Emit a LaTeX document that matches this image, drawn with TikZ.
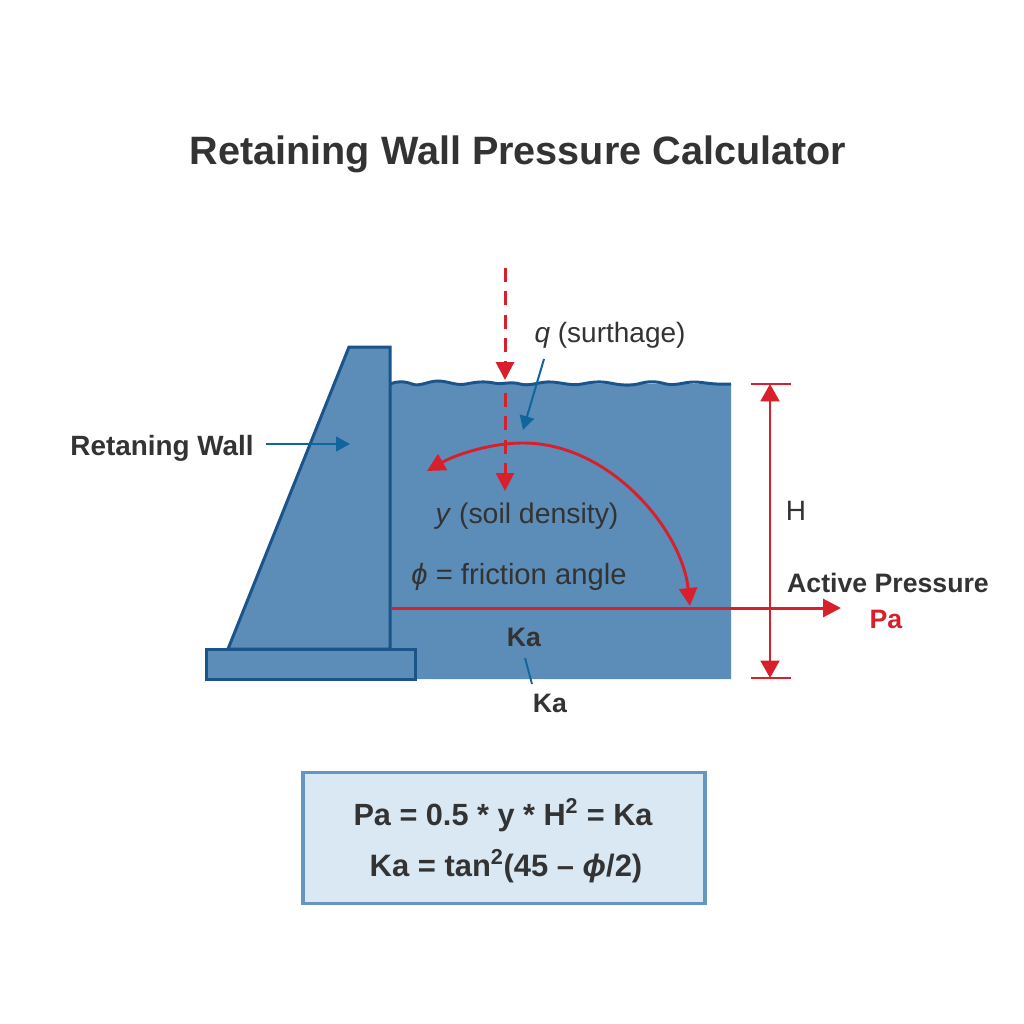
\documentclass[tikz,border=0pt]{standalone}
\usepackage{fontspec}
\setmainfont{Liberation Sans}
\usetikzlibrary{arrows.meta}
\definecolor{fillblue}{HTML}{5B8DB8}
\definecolor{edgeblue}{HTML}{1A5488}
\definecolor{leadblue}{HTML}{12649C}
\definecolor{redline}{HTML}{D8202C}
\definecolor{ink}{HTML}{333333}
\definecolor{boxfill}{HTML}{DAE8F4}
\definecolor{boxedge}{HTML}{6496C0}
\tikzset{
  x=0.75pt,y=-0.75pt,
  solid part/.style={fill=fillblue,draw=edgeblue,line width=2.25pt,line join=miter},
  redarrow/.style={draw=redline,line width=2.25pt,-{Triangle[length=13.5pt,width=13.5pt]}},
  reddash/.style={redarrow,dash pattern=on 10.5pt off 7pt},
  bluearrow/.style={draw=leadblue,line width=1.5pt,-{Triangle[length=10.5pt,width=11pt]}},
  lbl/.style={text=ink,inner sep=0pt,font=\fontsize{21pt}{24pt}\selectfont},
  boldlbl/.style={text=ink,inner sep=0pt,font=\fontsize{20pt}{24pt}\selectfont\bfseries},
  formula/.style={text=ink,inner sep=0pt,font=\fontsize{23pt}{27pt}\selectfont\bfseries},
}
\begin{document}
\begin{tikzpicture}
\useasboundingbox (0,0) rectangle (1024,1024);
\fill[white] (0,0) rectangle (1024,1024);
\node[text=ink,inner sep=0pt,font=\fontsize{29.7pt}{34pt}\selectfont\bfseries] (title) at (518,154) {Retaining Wall Pressure Calculator};
% soil
\fill[fillblue] (390,384)
  .. controls (397,381) and (404,381) .. (412,384)
  .. controls (420,387) and (428,381) .. (438,381)
  .. controls (448,381) and (456,386) .. (466,384)
  .. controls (476,382) and (484,381) .. (494,383)
  -- (731,384) -- (731,679) -- (390,679) -- cycle;
\draw[edgeblue,line width=2.2pt] (390,384)
  .. controls (397,381) and (404,381) .. (412,384)
  .. controls (420,387) and (428,381) .. (438,381)
  .. controls (448,381) and (456,386) .. (466,384)
  .. controls (476,382) and (484,381) .. (494,383)
  .. controls (502,385) and (510,381) .. (520,384)
  .. controls (530,387) and (540,381) .. (552,382)
  .. controls (564,383) and (572,386) .. (582,384)
  .. controls (592,382) and (600,381) .. (610,383)
  .. controls (620,385) and (628,386) .. (638,384)
  .. controls (648,381) and (656,381) .. (666,384)
  .. controls (676,386) and (684,382) .. (694,382)
  .. controls (704,382) and (712,385) .. (731,384);
% wall
\draw[solid part] (349,347) -- (390,347) -- (390,649) -- (228,649) -- cycle;
\draw[solid part] (206,649) rectangle (415,679);
% formula box
\node[draw=boxedge,fill=boxfill,line width=2.4pt,minimum width=301.5pt,minimum height=98pt,inner sep=0pt] (fbox) at (504,838) {};
% labels
\node[formula] (f1) at (503,815) {Pa = 0.5 * y * H\textsuperscript{2} = Ka};
\node[formula,font=\fontsize{23.2pt}{27pt}\selectfont\bfseries] (f2) at (506,866) {Ka = tan\textsuperscript{2}(45 – \textit{ϕ}/2)};
\node[boldlbl,font=\fontsize{20.9pt}{24pt}\selectfont\bfseries] (wall) at (162,448) {Retaning Wall};
\node[lbl] (q) at (610,335) {\textit{q} (surthage)};
\node[lbl,font=\fontsize{21.3pt}{24pt}\selectfont] (gamma) at (527,516) {\textit{y} (soil density)};
\node[lbl,font=\fontsize{21.9pt}{24pt}\selectfont] (phi) at (519,577) {\textit{ϕ} = friction angle};
\node[boldlbl] (ka1) at (524,637) {Ka};
\node[boldlbl] (ka2) at (550,703) {Ka};
\node[lbl] (h) at (796,511) {H};
\node[boldlbl] (active) at (888,583) {Active Pressure};
\node[boldlbl,text=redline] (pa) at (886,619) {Pa};
% free ends
\coordinate (dashA) at (505,268);
\coordinate (dashB) at (505,380);
\coordinate (dashC) at (505,393);
\coordinate (dashD) at (505,491);
\coordinate (qA) at (544,359);
\coordinate (qB) at (523,430);
\coordinate (wallA) at (266,444);
\coordinate (wallB) at (350,444);
\coordinate (arcA) at (427,471);
\coordinate (arcTop) at (523,443);
\coordinate (arcB) at (690,606);
\coordinate (paA) at (391,608);
\coordinate (paB) at (841,608);
\coordinate (hTop) at (770,384);
\coordinate (hBot) at (770,678);
\coordinate (hTopL) at (751,384);
\coordinate (hTopR) at (791,384);
\coordinate (hBotL) at (751,678);
\coordinate (hBotR) at (791,678);
\coordinate (kaA) at (525,658);
\coordinate (kaB) at (532,684);
% connectors
\draw[reddash] (dashA) -- (dashB);
\draw[reddash] (dashC) -- (dashD);
\draw[bluearrow] (qA) -- (qB);
\draw[bluearrow] (wallA) -- (wallB);
\draw[redline,line width=2.2pt,{Triangle[length=13.5pt,width=13.5pt]}-{Triangle[length=13.5pt,width=13.5pt]}] (arcB) .. controls (682,530) and (610,443) .. (arcTop) .. controls (490,443) and (455,455) .. (arcA);
\draw[redarrow] (paA) -- (paB);
\draw[redline,line width=2.2pt,{Triangle[length=13pt,width=14pt]}-{Triangle[length=13pt,width=14pt]}] (hTop) -- (hBot);
\draw[redline,line width=1.8pt] (hTopL) -- (hTopR);
\draw[redline,line width=1.8pt] (hBotL) -- (hBotR);
\draw[leadblue,line width=1.4pt] (kaA) -- (kaB);
\end{tikzpicture}
\end{document}
